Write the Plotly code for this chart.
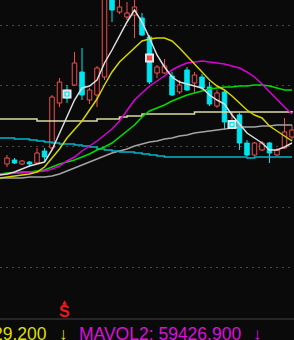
import plotly.graph_objects as go

# ---------------- data ----------------
days = list(range(39))            # candle index
ma_days = list(range(-1, 39))     # MA lines start one bar before the first full candle

opens  = [23.6, 24.0, 23.6, 23.8, 23.7, 24.9, 25.2, 29.7, 31.0, 31.5, 32.8, 30.0, 30.5, 32.3,
          40.1, 38.8, 38.3, 38.5, 38.2, 36.3, 32.7, 32.7, 32.4, 30.8, 33.0, 31.7, 32.3, 31.3,
          29.4, 30.8, 27.2, 28.5, 25.7, 24.5, 25.0, 25.7, 24.5, 25.2, 26.3]
highs  = [24.5, 24.2, 24.0, 23.9, 25.2, 25.2, 30.5, 32.2, 31.5, 34.8, 35.2, 31.2, 33.4, 40.8,
          40.4, 40.0, 39.8, 40.0, 38.7, 36.5, 33.5, 34.1, 32.8, 32.0, 33.3, 32.8, 32.6, 31.8,
          31.0, 31.0, 28.8, 28.7, 26.0, 25.8, 25.9, 25.8, 25.2, 28.2, 27.5]
lows   = [23.3, 23.6, 23.5, 23.3, 23.6, 23.8, 25.0, 29.3, 29.7, 31.4, 30.0, 29.6, 29.3, 32.0,
          37.8, 38.6, 38.0, 36.2, 36.4, 31.6, 32.2, 32.6, 30.4, 30.6, 30.9, 30.7, 31.0, 29.4,
          29.2, 27.0, 27.1, 25.0, 24.4, 24.4, 24.9, 23.7, 24.4, 25.1, 26.0]
closes = [24.2, 23.7, 23.9, 23.6, 24.7, 24.3, 30.3, 31.8, 30.2, 33.7, 30.5, 31.0, 33.2, 40.2,
          39.0, 39.3, 38.7, 39.3, 36.5, 31.8, 33.3, 33.4, 30.5, 31.5, 31.0, 32.5, 31.2, 29.6,
          30.7, 27.8, 27.9, 25.7, 24.5, 25.7, 25.7, 24.7, 25.0, 26.8, 27.0]

ma5   = [22.5, 22.6, 22.8, 23.1, 23.4, 23.6, 23.8, 25.0, 26.7, 28.3, 30.0, 31.2, 31.4, 32.0,
         33.7, 35.0, 36.4, 37.8, 39.0, 37.8, 36.2, 34.5, 33.3, 32.3, 31.8, 31.6, 31.4, 31.2,
         30.5, 30.0, 29.6, 28.5, 27.6, 26.7, 26.2, 25.7, 25.0, 25.0, 25.3, 25.7]
ma10  = [22.2, 22.3, 22.4, 22.5, 22.6, 22.8, 23.3, 24.2, 25.1, 26.2, 27.0, 27.9, 29.0, 30.1,
         31.5, 32.8, 33.8, 34.5, 35.3, 35.9, 36.1, 36.2, 36.2, 35.9, 35.2, 34.4, 33.6, 32.8,
         32.0, 31.4, 31.0, 30.4, 29.7, 29.0, 28.5, 28.2, 27.4, 26.9, 26.4, 25.9]
ma20  = [22.6, 22.6, 22.7, 22.7, 22.8, 22.8, 22.9, 23.1, 23.4, 23.9, 24.3, 24.9, 25.4, 25.9,
         26.5, 27.1, 27.9, 29.0, 30.0, 30.7, 31.4, 31.9, 32.4, 33.0, 33.4, 33.7, 33.8, 33.9,
         33.8, 33.7, 33.6, 33.4, 33.2, 32.8, 32.3, 31.6, 30.8, 30.0, 29.3, 28.6]
ma30  = [22.6, 22.7, 22.7, 22.8, 22.8, 22.9, 23.0, 23.3, 23.6, 23.8, 24.0, 24.3, 24.6, 25.0,
         25.3, 25.7, 26.3, 26.9, 27.5, 28.3, 28.9, 29.2, 29.5, 29.9, 30.2, 30.5, 30.7, 30.9,
         31.1, 31.2, 31.3, 31.3, 31.4, 31.4, 31.5, 31.5, 31.4, 31.2, 31.0, 31.0]
ma60  = [28.1, 28.1, 28.1, 28.1, 28.1, 27.9, 27.9, 27.9, 27.9, 27.9, 27.9, 27.9, 27.9, 28.1,
         28.1, 28.1, 28.3, 28.4, 28.4, 28.6, 28.6, 28.6, 28.6, 28.6, 28.6, 28.6, 28.8, 28.8,
         28.8, 28.8, 28.8, 28.8, 28.8, 28.8, 28.8, 28.8, 28.8, 28.8, 28.8, 28.9]
ma120 = [26.2, 26.2, 26.1, 26.1, 26.0, 25.9, 25.8, 25.7, 25.6, 25.6, 25.5, 25.4, 25.3, 25.1,
         25.0, 24.9, 24.8, 24.8, 24.7, 24.6, 24.5, 24.4, 24.3, 24.3, 24.3, 24.3, 24.3, 24.3,
         24.3, 24.3, 24.3, 24.3, 24.3, 24.2, 24.3, 24.3, 24.3, 24.3, 24.3, 24.3]
ma250 = [22.2, 22.2, 22.2, 22.2, 22.3, 22.3, 22.3, 22.4, 22.6, 22.9, 23.2, 23.5, 23.8, 24.1,
         24.4, 24.7, 24.9, 25.1, 25.4, 25.6, 25.8, 25.9, 26.1, 26.2, 26.4, 26.5, 26.7, 26.8,
         26.9, 27.0, 27.1, 27.2, 27.3, 27.3, 27.3, 27.4, 27.4, 27.5, 27.5, 27.5]

grid_levels = [37.5, 31.45, 25.4, 19.3, 13.25]

mark_days   = [8, 19, 30]
mark_prices = [30.6, 34.2, 27.55]
mark_kind   = ["down", "up", "down"]

signal_day  = 8
signal_text = "S"
vol_text1   = "29.200"
vol_text2   = "MAVOL2: 59426.900"

# ---------------- styles ----------------
BG = "#0a0a0a"
RED = "#ee4e4e"
CYAN = "#00e4ef"

fig = go.Figure()

# wicks (split so they never cross the hollow bodies)
def wick_xy(sel):
    xs, ys = [], []
    for i in sel:
        top = max(opens[i], closes[i]); bot = min(opens[i], closes[i])
        xs += [days[i], days[i], None, days[i], days[i], None]
        ys += [highs[i], top, None, bot, lows[i], None]
    return xs, ys

up = [i for i in days if closes[i] >= opens[i]]
dn = [i for i in days if closes[i] < opens[i]]

# bodies
fig.add_trace(go.Bar(x=[days[i] for i in up], base=[opens[i] for i in up],
                     y=[closes[i] - opens[i] for i in up], width=0.6,
                     marker=dict(color=BG, line=dict(color=RED, width=1)), hoverinfo="skip"))
fig.add_trace(go.Bar(x=[days[i] for i in dn], base=[closes[i] for i in dn],
                     y=[opens[i] - closes[i] for i in dn], width=0.6,
                     marker=dict(color=CYAN, line=dict(color=CYAN, width=1)), hoverinfo="skip"))

wx, wy = wick_xy(up)
fig.add_trace(go.Scatter(x=wx, y=wy, mode="lines", line=dict(color=RED, width=1), hoverinfo="skip"))
wx, wy = wick_xy(dn)
fig.add_trace(go.Scatter(x=wx, y=wy, mode="lines", line=dict(color=CYAN, width=1), hoverinfo="skip"))

# moving averages
for vals, col, shape in [(ma250, "#a4a4a4", "linear"), (ma120, "#00b6cc", "hv"),
                         (ma60, "#dcdca4", "hv"), (ma30, "#00dc00", "linear"),
                         (ma20, "#dc00dc", "linear"), (ma10, "#d4d400", "linear"),
                         (ma5, "#dedede", "linear")]:
    fig.add_trace(go.Scatter(x=ma_days, y=vals, mode="lines", line=dict(color=col, width=1.5, shape=shape),
                             hoverinfo="skip"))

# boxed marks
fig.add_trace(go.Scatter(x=mark_days, y=mark_prices, mode="markers",
                         marker=dict(symbol="square", size=9, color="#e8e8e8", line=dict(width=0)),
                         hoverinfo="skip"))
fig.add_trace(go.Scatter(x=mark_days, y=mark_prices, mode="markers",
                         marker=dict(symbol="square", size=4,
                                     color=[RED if k == "up" else "#e8e8e8" for k in mark_kind],
                                     line=dict(width=1.2, color=[RED if k == "up" else CYAN for k in mark_kind])),
                         hoverinfo="skip"))

W, H = 294, 340
def py(p):  # paper y from pixel
    return 1 - p / H
def px(p):
    return p / W

ann = [
    dict(x=signal_day, xref="x", xshift=-2.5, y=py(311), yref="paper", text="<b>" + signal_text + "</b>",
         showarrow=False, font=dict(family="Liberation Sans", size=16, color="#f01818"),
         xanchor="center", yanchor="middle"),
    dict(x=signal_day, xref="x", xshift=-2.5, y=py(301), yref="paper", text="▲",
         showarrow=False, font=dict(family="DejaVu Sans", size=6, color="#f01818"),
         xanchor="center", yanchor="middle"),
    dict(x=px(49), xref="paper", y=py(334), yref="paper", text=vol_text1, showarrow=False,
         font=dict(family="Liberation Sans", size=17.5, color="#dede00"), xanchor="right", yanchor="middle"),
    dict(x=px(63), xref="paper", y=py(334), yref="paper", text="↓", showarrow=False,
         font=dict(family="Liberation Sans", size=17.5, color="#dede00"), xanchor="center", yanchor="middle"),
    dict(x=px(77), xref="paper", y=py(334), yref="paper", text=vol_text2, showarrow=False,
         font=dict(family="Liberation Sans", size=17.5, color="#dc10dc"), xanchor="left", yanchor="middle"),
    dict(x=px(257), xref="paper", y=py(334), yref="paper", text="↓", showarrow=False,
         font=dict(family="Liberation Sans", size=17.5, color="#dc10dc"), xanchor="center", yanchor="middle"),
]

fig.update_layout(
    width=W, height=H, margin=dict(l=0, r=0, t=0, b=0),
    paper_bgcolor=BG, plot_bgcolor=BG, showlegend=False, barmode="overlay",
    xaxis=dict(range=[-0.933, 38.267], visible=False, fixedrange=True),
    yaxis=dict(range=[6, 40], showticklabels=False, ticks="", zeroline=False, showline=False,
               tickmode="array", tickvals=grid_levels, showgrid=True,
               gridcolor="#4a4a4a", gridwidth=1, griddash="2px,4px", fixedrange=True),
    annotations=ann,
    shapes=[dict(type="line", xref="paper", yref="paper", x0=0, x1=1, y0=py(319), y1=py(319),
                 line=dict(color="#303030", width=1.5))],
)

fig.write_html("out.html")
